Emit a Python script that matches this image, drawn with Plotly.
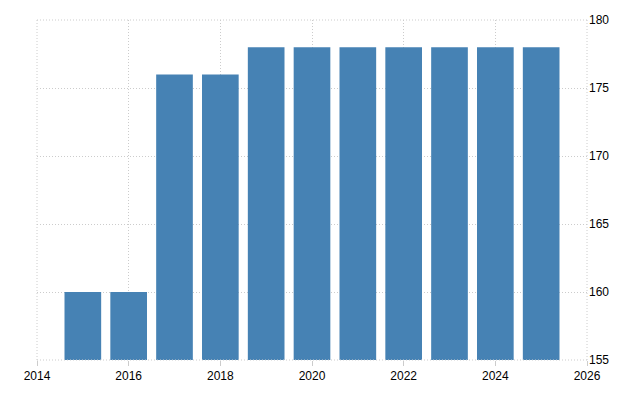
import plotly.graph_objects as go

years = [2015, 2016, 2017, 2018, 2019, 2020, 2021, 2022, 2023, 2024, 2025]
values = [160, 160, 176, 176, 178, 178, 178, 178, 178, 178, 178]
x_ticks = [2014, 2016, 2018, 2020, 2022, 2024, 2026]
y_ticks = [155, 160, 165, 170, 175, 180]

grid = dict(color="#cccccc", width=1, dash="1px,2px")

fig = go.Figure()
fig.add_trace(go.Bar(x=years, y=values, width=0.8, marker_color="#4682b4",
                     marker_line_width=0, hoverinfo="x+y"))

# dotted frame around the plot area (plotly drops edge gridlines)
for x0, y0, x1, y1 in [(0, 0, 0, 1), (1, 0, 1, 1), (0, 1, 1, 1), (0, 0, 1, 0)]:
    fig.add_shape(type="line", xref="paper", yref="paper",
                  x0=x0, y0=y0, x1=x1, y1=y1, line=grid, layer="above")

# page body has an 8px margin, so the figure is a bit smaller than the window
fig.update_layout(
    width=632, height=392,
    margin=dict(l=29, r=53, t=12, b=40, autoexpand=False),
    plot_bgcolor="white", paper_bgcolor="white",
    font=dict(family="Liberation Sans, Arial", size=12, color="#000000"),
    showlegend=False,
)
fig.update_xaxes(
    range=[2014, 2026], tickvals=x_ticks, ticktext=[str(t) for t in x_ticks],
    showgrid=True, gridcolor="#cccccc", griddash="1px,2px", gridwidth=1,
    showline=False,
    ticks="outside", ticklen=5, tickcolor="#cccccc", zeroline=False,
)
fig.update_yaxes(
    side="right", range=[155, 180], tickvals=y_ticks,
    showgrid=True, gridcolor="#cccccc", griddash="1px,2px", gridwidth=1,
    zeroline=False, ticks="", ticklabelstandoff=1,
)
fig.write_html("out.html")
